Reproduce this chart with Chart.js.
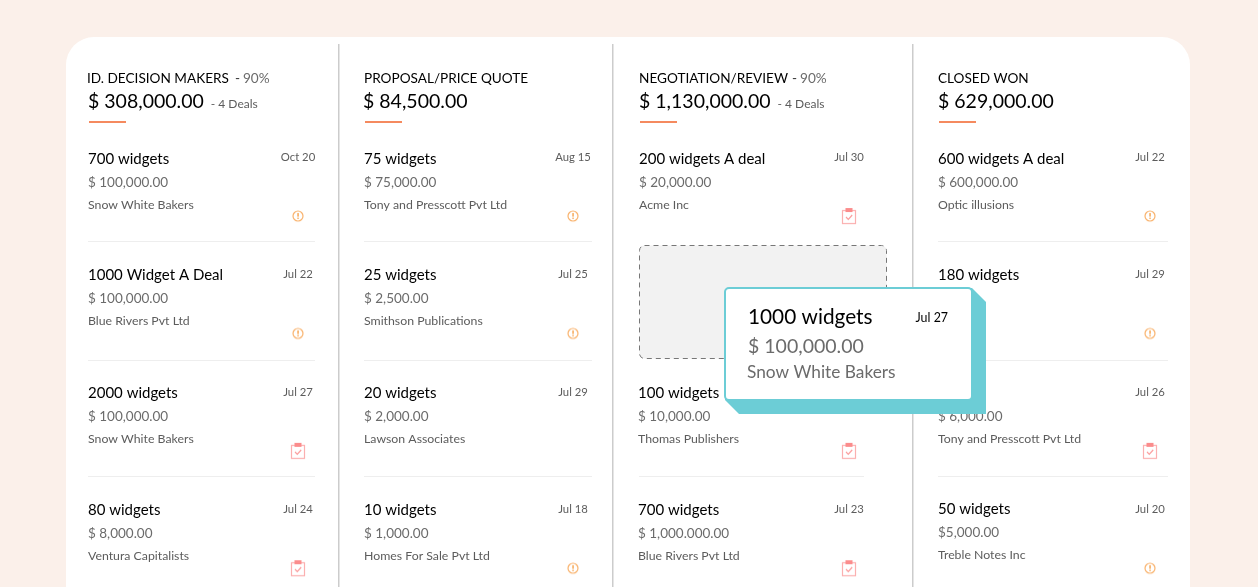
<!DOCTYPE html>
<html>
<head>
<meta charset="utf-8">
<title>Deals board</title>
<style>
  html, body { margin: 0; padding: 0; background: #fbf0ea; overflow: hidden; }
  canvas { display: block; }
</style>
<script src="https://cdn.jsdelivr.net/npm/chart.js@4"></script>
</head>
<body>
<canvas id="board" width="1258" height="587"></canvas>
<script>
// board data, one entry per stage
var stages = ["ID. DECISION MAKERS", "PROPOSAL/PRICE QUOTE", "NEGOTIATION/REVIEW", "CLOSED WON"];
var stagePercents = ["90%", "", "90%", ""];
var stageTotals = ["$ 308,000.00", "$ 84,500.00", "$ 1,130,000.00", "$ 629,000.00"];
var stageCounts = ["4 Deals", "", "4 Deals", ""];

var dealTitles = [
  ["700 widgets", "1000 Widget A Deal", "2000 widgets", "80 widgets"],
  ["75 widgets", "25 widgets", "20 widgets", "10 widgets"],
  ["200 widgets A deal", null, "100 widgets", "700 widgets"],
  ["600 widgets A deal", "180 widgets", null, "50 widgets"]
];
var dealAmounts = [
  ["$ 100,000.00", "$ 100,000.00", "$ 100,000.00", "$ 8,000.00"],
  ["$ 75,000.00", "$ 2,500.00", "$ 2,000.00", "$ 1,000.00"],
  ["$ 20,000.00", null, "$ 10,000.00", "$ 1,000.000.00"],
  ["$ 600,000.00", null, "$ 6,000.00", "$5,000.00"]
];
var dealCompanies = [
  ["Snow White Bakers", "Blue Rivers Pvt Ltd", "Snow White Bakers", "Ventura Capitalists"],
  ["Tony and Presscott Pvt Ltd", "Smithson Publications", "Lawson Associates", "Homes For Sale Pvt Ltd"],
  ["Acme Inc", null, "Thomas Publishers", "Blue Rivers Pvt Ltd"],
  ["Optic illusions", null, "Tony and Presscott Pvt Ltd", "Treble Notes Inc"]
];
var dealDates = [
  ["Oct 20", "Jul 22", "Jul 27", "Jul 24"],
  ["Aug 15", "Jul 25", "Jul 29", "Jul 18"],
  ["Jul 30", null, null, "Jul 23"],
  ["Jul 22", "Jul 29", "Jul 26", "Jul 20"]
];
var dealStatus = [
  ["alert", "alert", "task", "task"],
  ["alert", "alert", null, "alert"],
  ["task", null, "task", "task"],
  ["alert", "alert", "task", "alert"]
];

var draggedDeal = { title: "1000 widgets", amount: "$ 100,000.00", company: "Snow White Bakers", date: "Jul 27" };

// layout
var stageAnchors = [298, 573, 849, 1150];
var stageTextLeft = [88, 364, 639, 938];
var stageRuleRight = [315, 592, 864, 1168];
var stageDashGap = [6, 0, 4, 0];
var rowNudge = [0, -1, -1, -1];
var dividers = [339, 613, 913];
var rowRules = [241, 360, 476];
var FONT = "Lato, 'Open Sans', sans-serif";

// category scale whose columns are not evenly spaced
class StageScale extends Chart.CategoryScale {
  getPixelForValue(value) {
    var i = typeof value === "number" ? value : this.getLabels().indexOf(value);
    return stageAnchors[i];
  }
}
StageScale.id = "stageScale";
StageScale.defaults = Chart.CategoryScale.defaults;
Chart.register(StageScale);

function makeAlertIcon() {
  var c = document.createElement("canvas");
  c.width = 14; c.height = 14;
  var g = c.getContext("2d");
  g.strokeStyle = "#f9b26c";
  g.lineWidth = 1.2;
  g.beginPath();
  g.arc(7, 7, 5, 0, Math.PI * 2);
  g.stroke();
  g.fillStyle = "#f59a3c";
  g.fillRect(6.4, 4, 1.3, 3.6);
  g.fillRect(6.4, 8.6, 1.3, 1.3);
  return c;
}

function makeTaskIcon() {
  var c = document.createElement("canvas");
  c.width = 16; c.height = 18;
  var g = c.getContext("2d");
  g.strokeStyle = "#fbb0b0";
  g.lineWidth = 1.2;
  g.strokeRect(1.5, 3.5, 13, 13);
  g.fillStyle = "#fb8c8c";
  g.fillRect(4.5, 1, 7, 4);
  g.strokeStyle = "#fb9a9a";
  g.beginPath();
  g.moveTo(5, 10);
  g.lineTo(7.3, 12.3);
  g.lineTo(11.2, 8);
  g.stroke();
  return c;
}

var icons = { alert: makeAlertIcon(), task: makeTaskIcon() };

function statusPoints() {
  var points = [];
  dealStatus.forEach(function(col, s) {
    col.forEach(function(status, r) {
      if (status) points.push({ x: stages[s], y: r, status: status });
    });
  });
  return points;
}

function text(ctx, str, x, y, font, color, align) {
  if (str === null || str === "") return;
  ctx.font = font + " " + FONT;
  ctx.fillStyle = color;
  ctx.textAlign = align || "left";
  ctx.textBaseline = "middle";
  ctx.fillText(str, x, y);
}

function roundPath(ctx, x, y, w, h, r) {
  ctx.beginPath();
  ctx.roundRect(x, y, w, h, r);
}

var boardPlugin = {
  id: "board",
  beforeDatasetsDraw: function(chart) {
    var ctx = chart.ctx;
    var xs = chart.scales.x;
    var ys = chart.scales.y;
    ctx.save();

    ctx.fillStyle = "#ffffff";
    roundPath(ctx, 66, 37, 1124, 600, 28);
    ctx.fill();

    ctx.fillStyle = "#cccccc";
    dividers.forEach(function(d) {
      ctx.fillRect(d - 1, 44, 1.5, 543);
    });

    stages.forEach(function(stage, s) {
      var left = stageTextLeft[s];
      var headX = s === 0 ? left - 1 : left;
      text(ctx, stage, headX, 79, "13.6px", "#000");
      if (stagePercents[s]) {
        var w = ctx.measureText(stage).width + stageDashGap[s];
        text(ctx, "-", headX + w, 79, "13.6px", "#333");
        text(ctx, stagePercents[s], headX + w + 8, 79, "13.6px", "#6b6b6b");
      }
      text(ctx, stageTotals[s], s === 1 ? left - 1 : left, 102, "19.5px", "#000");
      if (stageCounts[s]) {
        var tw = ctx.measureText(stageTotals[s]).width;
        text(ctx, "- " + stageCounts[s], left + tw + 7, 104, "12px", "#5c5c5c");
      }
      ctx.fillStyle = "#f58a5f";
      ctx.fillRect(left + 1, 121, 37, 2);

      // separators between deals
      ctx.fillStyle = "#eeeeee";
      rowRules.forEach(function(ry, i) {
        if (s === 2 && i < 2) return;
        ctx.fillRect(left, ry, stageRuleRight[s] - left, 1);
      });

      for (var r = 0; r < 4; r++) {
        var rowY = Math.round(ys.getPixelForValue(r));
        var anchor = xs.getPixelForValue(stage);
        var tx = anchor - (stageAnchors[s] - left);
        if (s === 2 && r >= 2) tx -= 1;
        var ty = rowY + rowNudge[r];
        if (s === 3 && r === 3) ty -= 1;
        text(ctx, dealTitles[s][r], tx, ty - 57, "15px", "#000");
        text(ctx, dealAmounts[s][r], tx, ty - 33.5, "13.5px", "#6b6b6b");
        text(ctx, dealCompanies[s][r], tx, ty - 11, "12.3px", "#5c5c5c");
        text(ctx, dealDates[s][r], anchor, rowY - 59, "11.3px", "#5c5c5c", "center");
      }
    });

    // empty slot left by the dragged card
    ctx.fillStyle = "#f2f2f2";
    roundPath(ctx, 639.5, 245.5, 247, 113, 5);
    ctx.fill();
    ctx.strokeStyle = "#777";
    ctx.lineWidth = 1;
    ctx.setLineDash([5, 4]);
    ctx.stroke();
    ctx.setLineDash([]);
    ctx.restore();
  },
  afterDatasetsDraw: function(chart) {
    var ctx = chart.ctx;
    ctx.save();

    // dragged card with its teal edge
    ctx.fillStyle = "#6ccdd6";
    ctx.beginPath();
    ctx.moveTo(726, 289);
    ctx.lineTo(972, 288);
    ctx.lineTo(986, 302);
    ctx.lineTo(986, 414);
    ctx.lineTo(739, 414);
    ctx.lineTo(725, 400);
    ctx.closePath();
    ctx.fill();

    ctx.fillStyle = "#fff";
    roundPath(ctx, 725, 288, 247, 112, 4);
    ctx.fill();
    ctx.strokeStyle = "#6ccdd6";
    ctx.lineWidth = 2;
    ctx.stroke();

    text(ctx, draggedDeal.title, 748, 317.5, "20.8px", "#000");
    text(ctx, draggedDeal.date, 948, 318, "12.4px", "#000", "right");
    text(ctx, draggedDeal.amount, 748, 347, "19.5px", "#6b6b6b");
    text(ctx, draggedDeal.company, 747, 372, "17.3px", "#6b6b6b");
    ctx.restore();
  }
};

var chart = new Chart(document.querySelector("#board").getContext("2d"), {
  type: "scatter",
  data: {
    labels: stages,
    datasets: [{
      data: statusPoints(),
      showLine: false,
      pointStyle: function(c) {
        return c.raw ? icons[c.raw.status] : "circle";
      }
    }]
  },
  options: {
    responsive: false,
    animation: false,
    devicePixelRatio: 1,
    layout: { padding: 0, autoPadding: false },
    plugins: { legend: { display: false }, tooltip: { enabled: false } },
    scales: {
      x: { type: "stageScale", labels: stages, display: false },
      y: { type: "linear", reverse: true, min: -1.84, max: 3.16, display: false }
    }
  },
  plugins: [boardPlugin]
});
</script>
</body>
</html>
